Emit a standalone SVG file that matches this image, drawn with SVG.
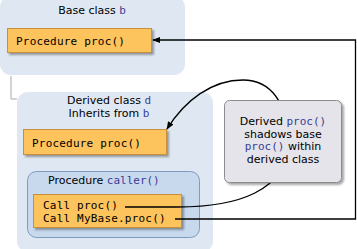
<svg xmlns="http://www.w3.org/2000/svg" width="357" height="249" viewBox="0 0 357 249">
<defs>
<marker id="ah" viewBox="0 0 10 10" refX="9" refY="5" markerWidth="8" markerHeight="8" orient="auto" markerUnits="userSpaceOnUse">
<path d="M0,1 L10,5 L0,9 Z" fill="#000"/>
</marker>
<filter id="sh" x="-10%" y="-10%" width="130%" height="140%">
<feDropShadow dx="2" dy="2" stdDeviation="1" flood-color="#000" flood-opacity="0.35"/>
</filter>
</defs>
<style>
.cls{fill:#dfe8f2;}
.proc{fill:#fdc35b;stroke:#c98f3a;stroke-width:1;filter:url(#sh);}
.t{font-family:"DejaVu Sans",Verdana,sans-serif;font-size:11px;fill:#000;}
.m{font-family:"DejaVu Sans Mono","Liberation Mono",monospace;font-size:11px;fill:#000;}
.k{font-family:"DejaVu Sans Mono","Liberation Mono",monospace;fill:#3c3c96;}
.ln{fill:none;stroke:#000;stroke-width:1.3;}
</style>
<g id="base">
<rect class="cls" x="0" y="-4" width="185" height="79" rx="11"/>
<text class="t" x="92" y="14" text-anchor="middle">Base class <tspan class="k">b</tspan></text>
<rect class="proc" x="7.5" y="28.5" width="144" height="24"/>
<text class="m" x="16" y="45" letter-spacing="0.2">Procedure proc()</text>
</g>
<g id="inherit">
<path d="M11,76 V99 H17" fill="none" stroke="#a9a9a9" stroke-width="1"/>
</g>
<g id="derived">
<rect class="cls" x="17" y="92" width="196" height="160" rx="11"/>
<text class="t" x="109" y="104" text-anchor="middle">Derived class <tspan class="k">d</tspan></text>
<text class="t" x="109" y="117" text-anchor="middle">Inherits from <tspan class="k">b</tspan></text>
<rect class="proc" x="23.5" y="129.5" width="143" height="25"/>
<text class="m" x="32" y="147" letter-spacing="0.2">Procedure proc()</text>
</g>
<g id="caller">
<rect x="27.5" y="171.5" width="172" height="66" rx="9" fill="#c8d9ee" stroke="#7f9cbf" stroke-width="1"/>
<text class="t" x="48" y="184">Procedure <tspan class="k">caller()</tspan></text>
<rect class="proc" x="33.5" y="194.5" width="148" height="33"/>
<text class="m" x="43" y="209" letter-spacing="0.2">Call proc()</text>
<text class="m" x="43" y="222" letter-spacing="0.2">Call MyBase.proc()</text>
</g>
<g id="connectors">
<path class="ln" d="M125,207 H178 C235,207 288,192 288,142 C288,102 270,80 243,80 C212,80 185,100 167,129" marker-end="url(#ah)"/>
<path class="ln" d="M175,219 H355.5 V40 H153" marker-end="url(#ah)"/>
</g>
<g id="note">
<rect x="224.5" y="100.5" width="117" height="82" rx="5" fill="#e4e4ea" stroke="#8c8c8c" stroke-width="1" filter="url(#sh)"/>
<text class="t" x="283" y="125" text-anchor="middle">Derived <tspan class="k">proc()</tspan></text>
<text class="t" x="283" y="137.5" text-anchor="middle">shadows base</text>
<text class="t" x="283" y="150" text-anchor="middle"><tspan class="k">proc()</tspan> within</text>
<text class="t" x="283" y="162.5" text-anchor="middle">derived class</text>
</g>
</svg>
